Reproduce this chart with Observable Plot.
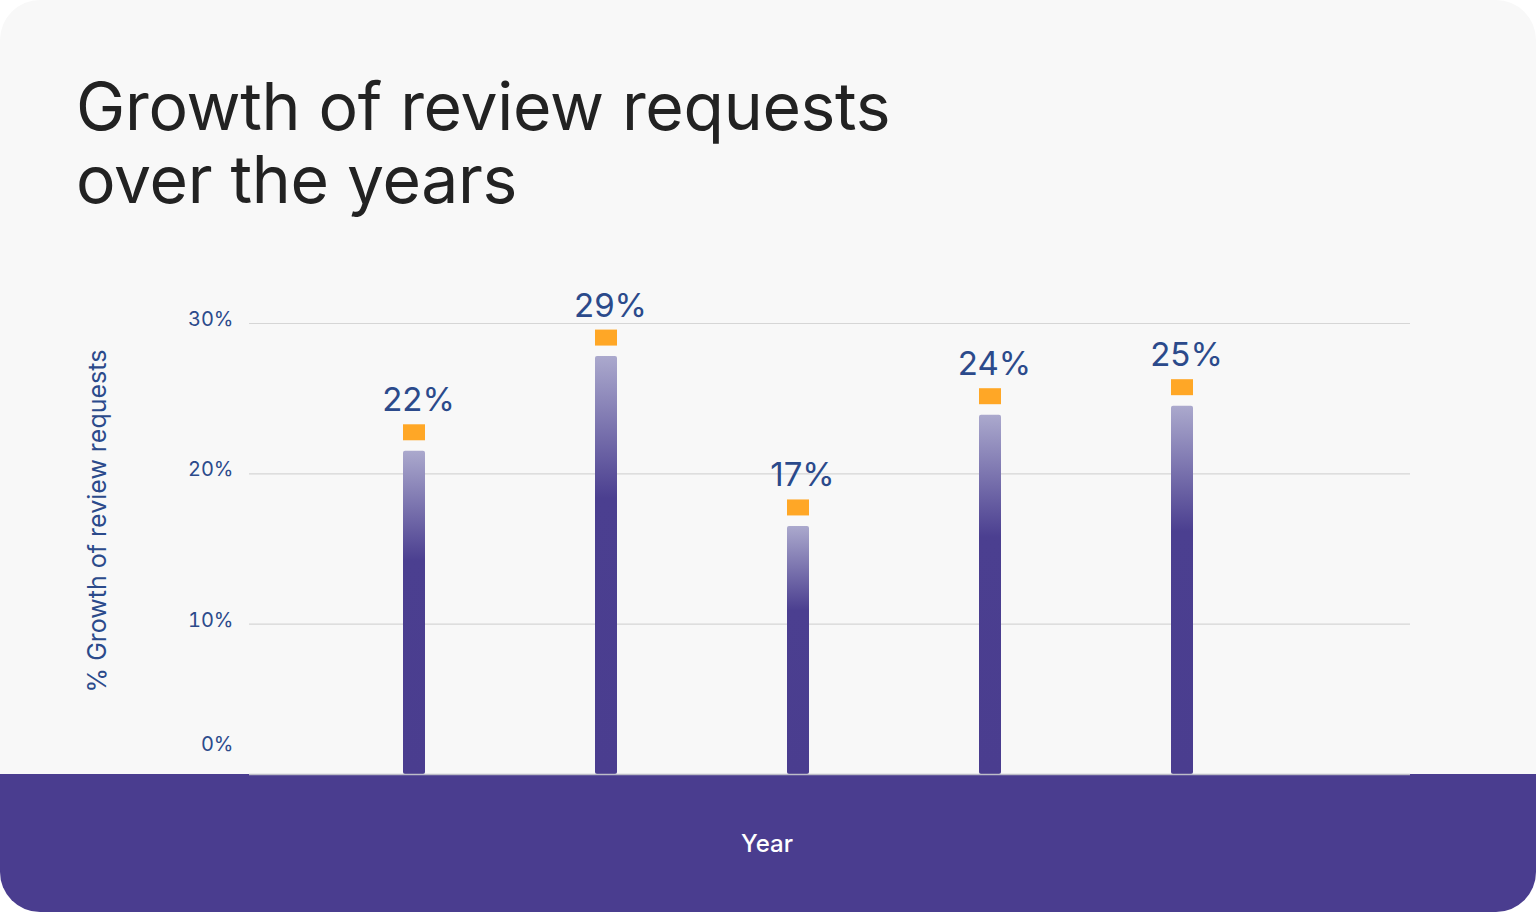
<!DOCTYPE html>
<html>
<head>
<meta charset="utf-8">
<script src="https://cdn.jsdelivr.net/npm/d3@7"></script>
<script src="https://cdn.jsdelivr.net/npm/@observablehq/plot@0.6"></script>
<style>
  html, body { margin: 0; padding: 0; background: #ffffff; }
  #card {
    position: relative; width: 1536px; height: 912px; overflow: hidden;
    background: #f8f8f8; border-radius: 40px;
    font-family: Inter, "Open Sans", sans-serif;
  }
  #band { position: absolute; left: 0; top: 774px; width: 1536px; height: 138px; background: #4a3d8f; }
  #title {
    position: absolute; left: 76px; top: 70px; margin: 0;
    font-size: 66px; line-height: 73px; font-weight: 400; color: #222222; letter-spacing: -0.3px;
  }
  #chart { position: absolute; left: 0; top: 240px; }
</style>
</head>
<body>
<div id="card">
  <div id="band"></div>
  <h1 id="title">Growth of review requests<br>over the years</h1>
  <div id="chart"></div>
</div>
<script>
// Categories (the year labels are not shown in the picture)
const categories = ["Y1", "Y2", "Y3", "Y4", "Y5"];
// Bar heights (% growth)
const barValues = [21.5, 27.8, 16.5, 23.9, 24.5];
// Value labels shown above the bars
const valueLabels = ["22%", "29%", "17%", "24%", "25%"];
// Y-axis tick values
const yTicks = [0, 10, 20, 30];

const data = categories.map((c, i) => ({cat: c, value: barValues[i], label: valueLabels[i]}));

const blue = "#2b4a8b";
const gradientDefs = () => {
  const ns = "http://www.w3.org/2000/svg";
  const defs = document.createElementNS(ns, "defs");
  const lg = document.createElementNS(ns, "linearGradient");
  lg.setAttribute("id", "barGrad");
  lg.setAttribute("x1", "0"); lg.setAttribute("y1", "0");
  lg.setAttribute("x2", "0"); lg.setAttribute("y2", "1");
  [["0", "#aba9cd"], ["0.34", "#4b3f90"], ["1", "#4a3d8f"]].forEach(([o, c]) => {
    const s = document.createElementNS(ns, "stop");
    s.setAttribute("offset", o); s.setAttribute("stop-color", c);
    lg.appendChild(s);
  });
  defs.appendChild(lg);
  return defs;
};

const chart = Plot.plot({
  width: 1536,
  height: 672,
  marginLeft: 249,
  marginRight: 126,
  marginTop: 83,
  marginBottom: 138,
  style: {background: "transparent", fontFamily: "Inter, 'Open Sans', sans-serif", overflow: "visible"},
  x: {type: "band", domain: categories, range: [318, 1278], paddingInner: 0.885, paddingOuter: 0.4425, axis: null},
  y: {domain: [0, 30], axis: null},
  marks: [
    gradientDefs,
    Plot.gridY({ticks: yTicks.filter(d => d > 0), stroke: "#d6d6d6", strokeOpacity: 1, strokeWidth: 1.2}),
    Plot.axisY({ticks: yTicks.filter(d => d > 0), tickFormat: d => d + "%", tickSize: 0, tickPadding: 16,
      fontSize: 20, fill: blue, dy: -4, label: null}),
    Plot.axisY({ticks: yTicks.filter(d => d === 0), tickFormat: d => d + "%", tickSize: 0, tickPadding: 16,
      fontSize: 20, fill: blue, dy: -30, label: null}),
    Plot.barY(data, {x: "cat", y: "value", fill: "url(#barGrad)", rx: 2}),
    Plot.ruleY([0], {stroke: "#bdbdc8", strokeWidth: 1.5}),
    Plot.tickY(data, {x: "cat", y: "value", stroke: "#ffa726", strokeWidth: 16, dy: -19}),
    Plot.text(data, {x: "cat", y: "value", text: "label", dy: -40, dx: 4, lineAnchor: "bottom",
      fontSize: 33, fill: blue, letterSpacing: "-0.5px"}),
    Plot.text(["% Growth of review requests"], {frameAnchor: "left", rotate: -90, dx: -152, dy: -28,
      fontSize: 25, fill: blue, textAnchor: "middle"}),
    Plot.text(["Year"], {frameAnchor: "bottom", dx: -63, dy: 77, fontSize: 24, fontWeight: 500, fill: "#ffffff"})
  ]
});
document.getElementById("chart").appendChild(chart);
</script>
</body>
</html>
